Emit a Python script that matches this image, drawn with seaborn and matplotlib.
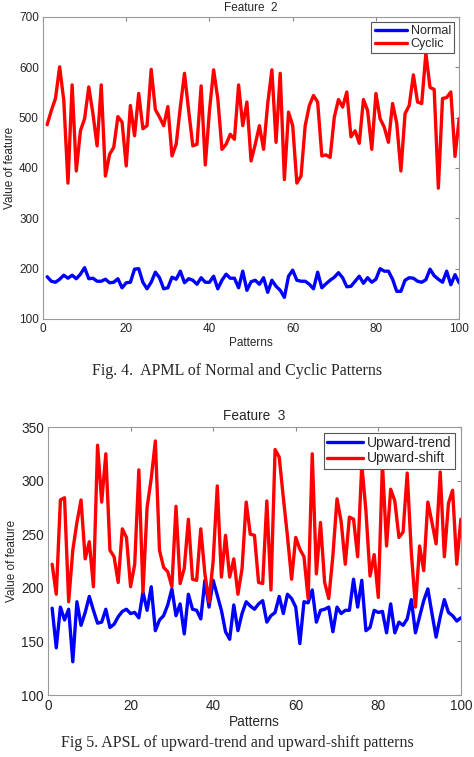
import matplotlib
matplotlib.use('Agg')
import matplotlib.pyplot as plt
import seaborn as sns

patterns = list(range(1, 101))

# Feature 2
normal = [184, 175, 173, 179, 187, 181, 187, 180, 189, 202,
          180, 181, 175, 175, 179, 172, 173, 180, 162, 172,
          173, 199, 200, 173, 160, 173, 193, 182, 160, 162,
          183, 179, 195, 172, 180, 177, 169, 182, 173, 173,
          185, 160, 177, 189, 181, 181, 162, 195, 157, 174,
          177, 169, 182, 153, 177, 165, 157, 143, 185, 197,
          177, 175, 175, 169, 160, 193, 162, 170, 177, 183,
          192, 182, 164, 165, 175, 185, 171, 182, 173, 179,
          200, 195, 195, 179, 155, 155, 177, 182, 181, 175,
          173, 178, 199, 186, 179, 173, 195, 168, 188, 172]
cyclic = [486, 514, 538, 601, 534, 370, 565, 394, 474, 498,
          561, 508, 444, 565, 384, 427, 441, 502, 491, 404,
          524, 464, 548, 478, 484, 596, 516, 501, 484, 522,
          424, 447, 521, 588, 514, 444, 447, 563, 406, 514,
          595, 538, 437, 447, 467, 457, 565, 484, 531, 414,
          447, 484, 437, 528, 595, 451, 588, 377, 511, 484,
          370, 384, 484, 524, 544, 531, 424, 426, 421, 501,
          536, 521, 551, 462, 474, 449, 536, 514, 437, 548,
          498, 481, 451, 528, 489, 394, 508, 524, 585, 531,
          528, 628, 560, 556, 360, 538, 540, 551, 423, 498]

# Feature 3
upward_trend = [181, 144, 182, 170, 180, 131, 187, 165, 177, 192,
                179, 167, 168, 180, 163, 166, 173, 178, 180, 176,
                177, 172, 196, 179, 201, 160, 170, 174, 184, 199,
                174, 185, 157, 194, 180, 179, 171, 207, 182, 207,
                193, 179, 159, 152, 184, 160, 176, 187, 183, 180,
                185, 188, 168, 174, 177, 192, 176, 194, 190, 182,
                148, 187, 186, 198, 168, 179, 180, 182, 159, 182,
                176, 179, 179, 208, 182, 207, 160, 163, 179, 177,
                178, 158, 185, 158, 168, 165, 171, 189, 158, 173,
                188, 199, 176, 154, 173, 189, 177, 174, 169, 172]
upward_shift = [222, 194, 282, 284, 187, 235, 261, 282, 227, 243,
                201, 333, 280, 325, 235, 229, 205, 255, 247, 201,
                222, 310, 196, 275, 302, 337, 235, 219, 215, 201,
                276, 204, 218, 264, 208, 207, 255, 213, 187, 225,
                295, 210, 249, 210, 227, 194, 218, 280, 250, 249,
                205, 204, 281, 198, 329, 322, 284, 248, 208, 247,
                236, 229, 190, 325, 213, 261, 205, 190, 230, 283,
                262, 222, 266, 264, 229, 315, 272, 211, 231, 191,
                316, 239, 292, 281, 247, 252, 307, 233, 182, 239,
                216, 280, 261, 241, 308, 229, 279, 291, 222, 264]

sns.set_style('white')
plt.rcParams['font.family'] = ['Liberation Sans', 'DejaVu Sans']

fig = plt.figure(figsize=(4.74, 7.57), dpi=100)
ax1 = fig.add_axes([0.0907, 0.5786, 0.878, 0.399])
ax2 = fig.add_axes([0.1013, 0.0819, 0.871, 0.354])


def draw(ax, s1, s2, lab1, lab2, title, ylim, yticks, tpad, fs, lfs):
    sns.lineplot(x=patterns, y=s1, ax=ax, color='#0000ff', lw=2.4, label=lab1)
    sns.lineplot(x=patterns, y=s2, ax=ax, color='#ff0000', lw=2.4, label=lab2)
    ax.set_xlim(0, 100)
    ax.set_ylim(*ylim)
    ax.set_xticks(range(0, 101, 20))
    ax.set_yticks(yticks)
    ax.tick_params(direction='in', length=3, labelsize=fs, top=True, right=True,
                   color='#888888', pad=3)
    for sp in ax.spines.values():
        sp.set_color('#999999')
        sp.set_linewidth(0.8)
    ax.set_title(title, fontsize=fs, pad=tpad)
    ax.set_xlabel('Patterns', fontsize=fs, labelpad=1)
    ax.set_ylabel('Value of feature', fontsize=8.5, labelpad=2)
    leg = ax.legend(loc='upper right', fontsize=lfs, fancybox=False, framealpha=1,
                    edgecolor='#555555', handlelength=2.6, borderpad=0.25,
                    labelspacing=0.1, handletextpad=0.3, borderaxespad=0.4)
    leg.get_frame().set_linewidth(0.8)


draw(ax1, normal, cyclic, 'Normal', 'Cyclic', 'Feature  2',
     (100, 700), range(100, 701, 100), 4, 8.5, 9)
draw(ax2, upward_trend, upward_shift, 'Upward-trend', 'Upward-shift', 'Feature  3',
     (100, 350), range(100, 351, 50), 5, 9.8, 10)

fig.text(0.5, 1 - 371 / 757, 'Fig. 4.  APML of Normal and Cyclic Patterns',
         ha='center', va='center', family='Liberation Serif', fontsize=11.5)
fig.text(0.5, 1 - 743 / 757, 'Fig 5. APSL of upward-trend and upward-shift patterns',
         ha='center', va='center', family='Liberation Serif', fontsize=11.5)

fig.savefig('out.png', dpi=100)
